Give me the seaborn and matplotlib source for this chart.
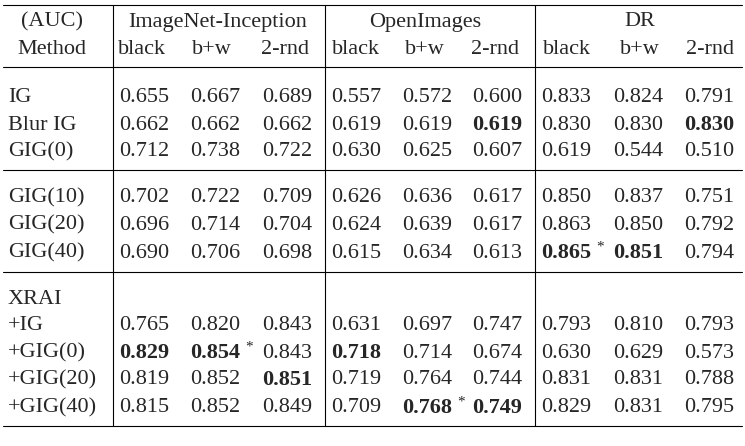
import matplotlib
matplotlib.use('Agg')
import matplotlib.pyplot as plt
import seaborn as sns

sns.set_style("white")
plt.rcParams['font.family'] = ['Liberation Serif', 'DejaVu Serif']

# ---- table data ----
groups = ['ImageNet-Inception', 'OpenImages', 'DR']
subcols = ['black', 'b+w', '2-rnd']
methods = ['IG', 'Blur IG', 'GIG(0)',
           'GIG(10)', 'GIG(20)', 'GIG(40)',
           'XRAI', '+IG', '+GIG(0)', '+GIG(20)', '+GIG(40)']
values = [
    [0.655, 0.667, 0.689, 0.557, 0.572, 0.600, 0.833, 0.824, 0.791],
    [0.662, 0.662, 0.662, 0.619, 0.619, 0.619, 0.830, 0.830, 0.830],
    [0.712, 0.738, 0.722, 0.630, 0.625, 0.607, 0.619, 0.544, 0.510],
    [0.702, 0.722, 0.709, 0.626, 0.636, 0.617, 0.850, 0.837, 0.751],
    [0.696, 0.714, 0.704, 0.624, 0.639, 0.617, 0.863, 0.850, 0.792],
    [0.690, 0.706, 0.698, 0.615, 0.634, 0.613, 0.865, 0.851, 0.794],
    None,
    [0.765, 0.820, 0.843, 0.631, 0.697, 0.747, 0.793, 0.810, 0.793],
    [0.829, 0.854, 0.843, 0.718, 0.714, 0.674, 0.630, 0.629, 0.573],
    [0.819, 0.852, 0.851, 0.719, 0.764, 0.744, 0.831, 0.831, 0.788],
    [0.815, 0.852, 0.849, 0.709, 0.768, 0.749, 0.829, 0.831, 0.795],
]
bold_cells = [(1, 5), (1, 8), (5, 6), (5, 7), (8, 0), (8, 1), (8, 3),
              (9, 2), (10, 4), (10, 5)]
star_cells = [(5, 6), (8, 1), (10, 4)]

# ---- layout (pixel coordinates) ----
W, H = 745, 446
fig = plt.figure(figsize=(W / 100, H / 100), dpi=100)
ax = fig.add_axes([0, 0, 1, 1])
ax.set_xlim(0, W)
ax.set_ylim(H, 0)
ax.axis('off')

fs = 16
row_y = [98, 125, 152, 198, 225, 253, 300, 326, 353, 380, 408]
col_x = [119, 190, 262, 331, 402, 472, 541, 613, 684]
group_x = [218, 425, 640]
sub_x = [142, 212, 285, 356, 425, 495, 567, 640, 710]

ax.text(52, 22, '(AUC)', fontsize=fs, ha='center', va='center')
ax.text(52, 50, 'Method', fontsize=fs, ha='center', va='center')
for g, x in zip(groups, group_x):
    ax.text(x, 22, g, fontsize=fs, ha='center', va='center')
for i, x in enumerate(sub_x):
    ax.text(x, 50, subcols[i % 3], fontsize=fs, ha='center', va='center')

for r, (m, y) in enumerate(zip(methods, row_y)):
    ax.text(8, y, m, fontsize=fs, ha='left', va='center')
    if values[r] is None:
        continue
    for c, v in enumerate(values[r]):
        bold = (r, c) in bold_cells
        ax.text(col_x[c], y, f'{v:.3f}', fontsize=fs, ha='left', va='center',
                fontweight='bold' if bold else 'normal')
        if (r, c) in star_cells:
            ax.text(col_x[c] + 55, y - 6, '*', fontsize=11, ha='left', va='center')

# rules
for y in [5, 67, 170, 272, 426]:
    ax.plot([3, W - 3], [y, y], color='black', lw=0.8)
for x in [113, 325, 535]:
    ax.plot([x, x], [5, 426], color='black', lw=0.8)

fig.savefig('out.png', dpi=100, facecolor='white')
